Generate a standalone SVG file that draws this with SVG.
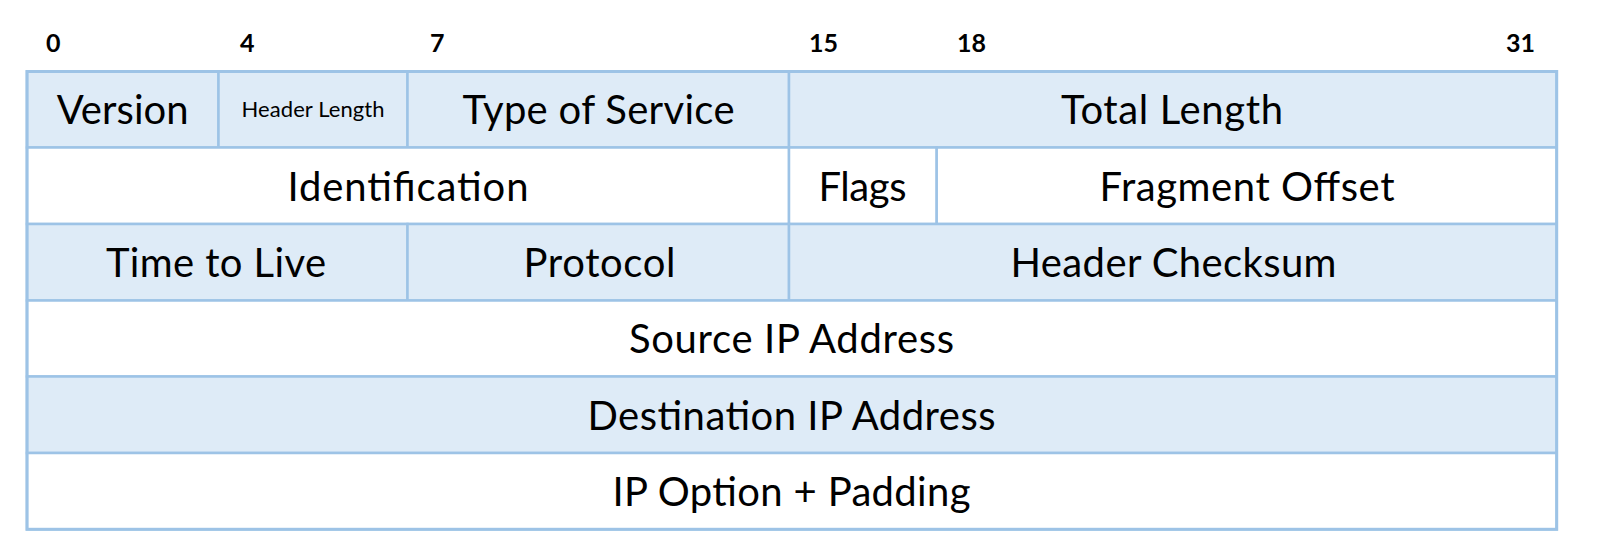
<svg xmlns="http://www.w3.org/2000/svg" width="1600" height="553" viewBox="0 0 1600 553">
<style>
.bg{fill:#ffffff}
.cell{stroke:#9dc3e6;stroke-width:2.5}
.blue{fill:#deebf7}
.white{fill:#ffffff}
.lbl{font-family:Lato,"Open Sans","Liberation Sans",sans-serif;font-size:40px;fill:#000;text-anchor:middle}
.small{font-family:Lato,"Open Sans","Liberation Sans",sans-serif;font-size:22px;fill:#000;text-anchor:middle}
.bit{font-family:Lato,"Open Sans","Liberation Sans",sans-serif;font-size:25px;font-weight:bold;fill:#000}
.outer{fill:none;stroke:#9dc3e6;stroke-width:3}
</style>
<rect class="bg" x="0" y="0" width="1600" height="553"/>
<g id="bits">
<text class="bit" x="46" y="52">0</text>
<text class="bit" x="240" y="52">4</text>
<text class="bit" x="430" y="52">7</text>
<text class="bit" x="809" y="52">15</text>
<text class="bit" x="957" y="52">18</text>
<text class="bit" x="1506" y="52">31</text>
</g>
<g id="version"><rect class="cell blue" x="27" y="71.5" width="191.5" height="76"/><text class="lbl" x="122.7" y="124" textLength="132">Version</text></g>
<g id="header-length"><rect class="cell blue" x="218.5" y="71.5" width="189" height="76"/><text class="small" x="313" y="116.7" textLength="143">Header Length</text></g>
<g id="type-of-service"><rect class="cell blue" x="407.5" y="71.5" width="381.5" height="76"/><text class="lbl" x="598.5" y="124" textLength="272">Type of Service</text></g>
<g id="total-length"><rect class="cell blue" x="789" y="71.5" width="767.7" height="76"/><text class="lbl" x="1172" y="124" textLength="222">Total Length</text></g>
<g id="identification"><rect class="cell white" x="27" y="147.5" width="762" height="76.5"/><text class="lbl" x="408" y="200.5" textLength="241">Identification</text></g>
<g id="flags"><rect class="cell white" x="789" y="147.5" width="147.7" height="76.5"/><text class="lbl" x="862.5" y="200.5" textLength="88">Flags</text></g>
<g id="fragment-offset"><rect class="cell white" x="936.7" y="147.5" width="620" height="76.5"/><text class="lbl" x="1247" y="200.5" textLength="295">Fragment Offset</text></g>
<g id="time-to-live"><rect class="cell blue" x="27" y="224" width="380.5" height="76.5"/><text class="lbl" x="216" y="277" textLength="220">Time to Live</text></g>
<g id="protocol"><rect class="cell blue" x="407.5" y="224" width="381.5" height="76.5"/><text class="lbl" x="599.5" y="277" textLength="152">Protocol</text></g>
<g id="header-checksum"><rect class="cell blue" x="789" y="224" width="767.7" height="76.5"/><text class="lbl" x="1173.5" y="277" textLength="326">Header Checksum</text></g>
<g id="source-ip"><rect class="cell white" x="27" y="300.5" width="1529.7" height="76"/><text class="lbl" x="791.5" y="353.3" textLength="325">Source IP Address</text></g>
<g id="destination-ip"><rect class="cell blue" x="27" y="376.5" width="1529.7" height="76.5"/><text class="lbl" x="791.5" y="429.5" textLength="408">Destination IP Address</text></g>
<g id="ip-option"><rect class="cell white" x="27" y="453" width="1529.7" height="76.3"/><text class="lbl" x="791.5" y="506.3" textLength="358">IP Option + Padding</text></g>
<g id="connectors"><rect class="outer" x="27" y="71.5" width="1529.7" height="457.8"/></g>
</svg>
